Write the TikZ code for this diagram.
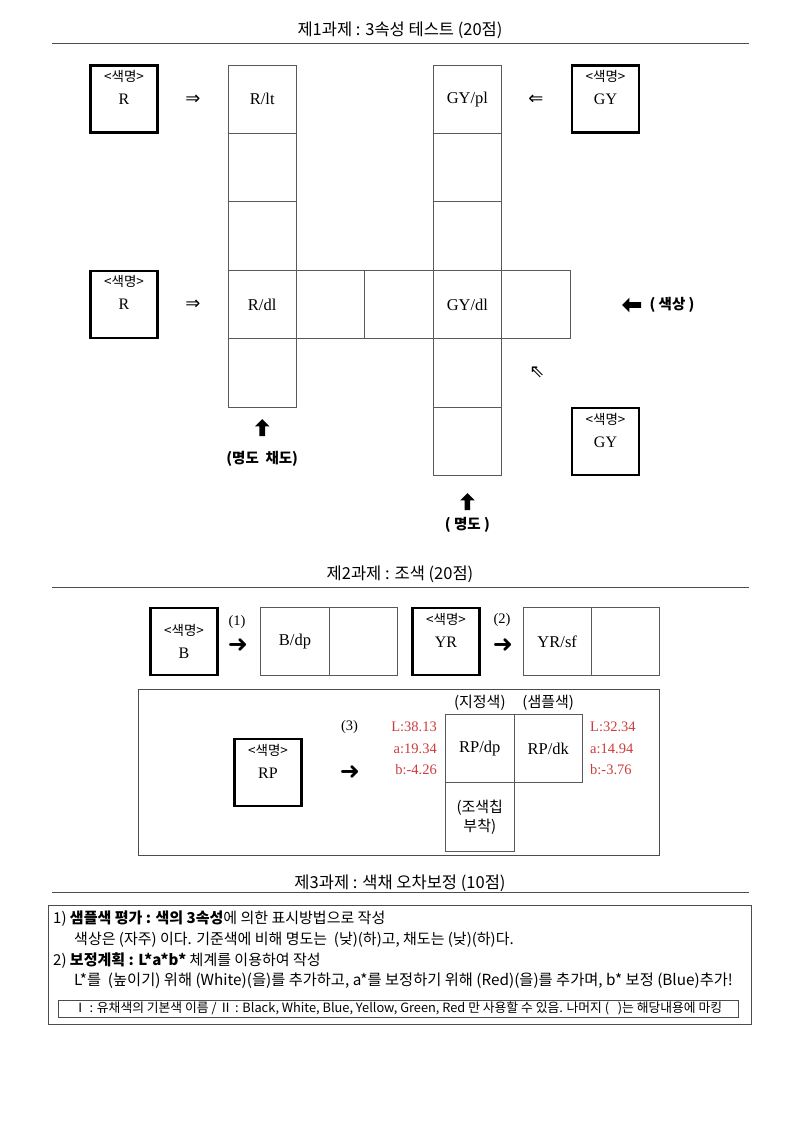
\documentclass[tikz,border=0pt]{standalone}
\usepackage{fontspec}
\setmainfont{Liberation Serif}
\newfontfamily\kr{Noto Sans CJK KR}
\newfontfamily\sym{DejaVu Sans}
\usetikzlibrary{positioning,shapes.arrows}
\definecolor{labred}{RGB}{205,60,60}
\newcommand{\cname}[1]{{\kr\fontsize{13.5}{23}\selectfont #1}}

\begin{document}
\begin{tikzpicture}[x=1pt,y=-1pt]
\tikzstyle{every node}=[inner sep=0pt]
\tikzstyle{cell}=[draw=black!65,line width=0.7pt,minimum width=68.4pt,minimum height=68.4pt,align=center,font=\fontsize{16.5}{19}\selectfont]
\tikzstyle{namebox}=[draw,line width=2.6pt,minimum width=67pt,minimum height=67pt,align=center,font=\fontsize{16}{23}\selectfont]
\tikzstyle{title}=[font=\kr\fontsize{16.5}{18}\selectfont]
\tikzstyle{kor}=[font=\kr\fontsize{15}{19}\selectfont]
\tikzstyle{tag}=[font=\kr\bfseries\fontsize{14.5}{19}\selectfont]
\tikzstyle{num}=[font=\fontsize{14.5}{21.5}\selectfont]
\tikzstyle{sym}=[font=\sym\fontsize{18}{18}\selectfont]
\tikzstyle{fat}=[font=\sym\fontsize{24}{24}\selectfont]
\tikzstyle{bigarrow}=[single arrow,fill=black,inner sep=2.6pt,minimum height=17pt,single arrow head extend=4.5pt,single arrow head indent=0pt]
\tikzstyle{rule}=[draw=black!70,line width=0.9pt]
\useasboundingbox (0,0) rectangle (800,1131);

% 제1과제
\node[title] (t1) at (400,30) {제1과제 : 3속성 테스트 (20점)};
\path[rule] (52,43) -- (749,43);
\node[cell] (l1) at (262.2,99.2) {R/lt};
\node[cell] (l4) at (262.2,304.4) {R/dl};
\foreach \i in {2,3,5} \node[cell] (l\i) at (262.2,{65+68.4*(\i-0.5)}) {};
\node[cell] (g1) at (467.4,99.2) {GY/pl};
\node[cell] (g4) at (467.4,304.4) {GY/dl};
\foreach \i in {2,3,5,6} \node[cell] (g\i) at (467.4,{65+68.4*(\i-0.5)}) {};
\foreach \i/\x in {2/330.6,3/399,5/535.8} \node[cell] (h\i) at (\x,304.4) {};

\node[namebox] (r1) at (124,99) {\cname{<색명>}\\R\\~};
\node[namebox] (r2) at (124,304.4) {\cname{<색명>}\\R\\~};
\node[namebox] (gy1) at (605.5,99) {\cname{<색명>}\\GY\\~};
\node[namebox] (gy2) at (605.5,441.6) {\cname{<색명>}\\GY\\~};
\node[sym] (a1) at (193,100) {⇒};
\node[sym] (a2) at (193,305) {⇒};
\node[sym] (a3) at (536,100) {⇐};
\node[sym] (a4) at (537,372) {⇖};
\node[bigarrow,shape border rotate=180,minimum height=19pt] (a5) at (633,305) {};
\node[tag] (hue) at (672,305) {( 색상 )};
\node[bigarrow,shape border rotate=90] (up1) at (262.2,429) {};
\node[tag] (vc) at (262.2,459) {(명도\ \ 채도)};
\node[bigarrow,shape border rotate=90] (up2) at (467.4,503) {};
\node[tag] (v) at (467.4,525) {( 명도 )};

% 제2과제
\node[title] (t2) at (400,574) {제2과제 : 조색 (20점)};
\path[rule] (52,587) -- (749,587);
\node[namebox] (b) at (184,641.5) {\cname{<색명>}\\B};
\node[num] (n1) at (237,622) {(1)};
\node[fat] (a6) at (238,646) {➜};
\node[cell] (bdp) at (295,641.5) {B/dp};
\node[cell] (bx) at (363.4,641.5) {};
\node[namebox] (yr) at (446,641.5) {\cname{<색명>}\\YR\\~};
\node[num] (n2) at (502,620) {(2)};
\node[fat] (a7) at (503,646) {➜};
\node[cell] (ysf) at (557.2,641.5) {YR/sf};
\node[cell] (yx) at (625.6,641.5) {};

\draw[draw=black!70,line width=0.9pt] (138,689) rectangle (659,855);
\node[namebox] (rp) at (268,772.5) {\cname{<색명>}\\RP\\~};
\node[num] (n3) at (349.5,727) {(3)};
\node[fat] (a8) at (350,773) {➜};
\node[kor] (std) at (479.8,703) {(지정색)};
\node[kor] (smp) at (548.2,703) {(샘플색)};
\node[cell] (rdp) at (479.8,748.5) {RP/dp};
\node[cell] (rdk) at (548.2,748.5) {RP/dk};
\node[cell,kor] (chip) at (479.8,816.9) {(조색칩\\부착)};
\node[num,text=labred,align=right,anchor=east] (lab1) at (437,748.5) {L:38.13\\a:19.34\\b:-4.26};
\node[num,text=labred,align=left,anchor=west] (lab2) at (590,748.5) {L:32.34\\a:14.94\\b:-3.76};

% 제3과제
\node[title] (t3) at (400,883) {제3과제 : 색채 오차보정 (10점)};
\path[rule] (52,892.5) -- (749,892.5);
\draw[draw=black!70,line width=0.9pt] (48,905) rectangle (751,1024);
\node[kor,anchor=west] (p1) at (53,919) {1) \textbf{샘플색 평가 : 색의 3속성}에 의한 표시방법으로 작성};
\node[kor,anchor=west] (p2) at (74,940) {색상은 (자주) 이다. 기준색에 비해 명도는\ \ (낮)(하)고, 채도는 (낮)(하)다.};
\node[kor,anchor=west] (p3) at (53,961) {2) \textbf{보정계획 : L*a*b*} 체계를 이용하여 작성};
\node[kor,anchor=west,font=\kr\fontsize{15.3}{19}\selectfont] (p4) at (74,981) {L*를\ \ (높이기) 위해 (White)(을)를 추가하고, a*를 보정하기 위해 (Red)(을)를 추가며, b* 보정 (Blue)추가!};
\node[draw=black!70,line width=0.8pt,minimum width=680pt,minimum height=17pt,font=\kr\fontsize{12.8}{13}\selectfont] (note) at (398,1008.5) {Ⅰ : 유채색의 기본색 이름 / Ⅱ : Black, White, Blue, Yellow, Green, Red 만 사용할 수 있음. 나머지 (\ \ \ )는 해당내용에 마킹};
\end{tikzpicture}
\end{document}
